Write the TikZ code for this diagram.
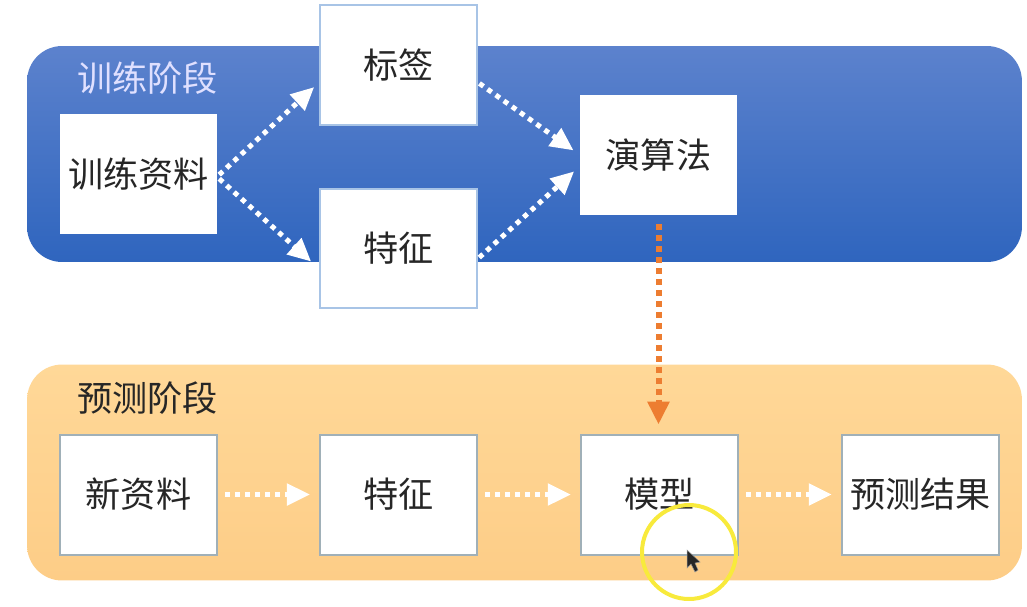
\documentclass[tikz,border=0pt]{standalone}
\usepackage{fontspec}
\newfontfamily\cjk{Noto Sans CJK SC}
\usetikzlibrary{arrows.meta,positioning}
\definecolor{bandblue}{RGB}{47,101,190}
\definecolor{bandbluetop}{RGB}{92,130,205}
\definecolor{bandorange}{RGB}{253,205,135}
\definecolor{bandorangetop}{RGB}{255,216,152}
\definecolor{edgeblue}{RGB}{168,196,230}
\definecolor{edgegray}{RGB}{160,176,184}
\definecolor{flow}{RGB}{237,125,49}
\definecolor{halocolor}{RGB}{248,234,60}
\tikzset{
    %Define style for boxes
    stagebox/.style={
           rectangle,
           draw=edgeblue,
           line width=.04cm,
           outer sep=0pt,
           minimum width=3.14cm,
           minimum height=2.4cm,
           text=black!85,
           font=\cjk\fontsize{20}{24}\selectfont,
           text centered,
           fill=white},
    lowbox/.style={
           stagebox,
           draw=edgegray},
    % Define style for bands
    band/.style={
           rectangle,
           rounded corners=.7cm,
           outer sep=0pt,
           minimum width=19.9cm,
           minimum height=4.32cm},
    bandtitle/.style={
           text=black!85,
           font=\cjk\fontsize{20}{24}\selectfont},
    % Define arrow style
    pil/.style={
           -{Triangle[length=.46cm,width=.42cm]},
           line width=.1cm,
           dash pattern=on .1cm off .1cm,
           draw=white,
           shorten <=.06cm,
           shorten >=.16cm}
}
\begin{document}
\begin{tikzpicture}[x=.02cm,y=-.02cm,node distance=2.08cm]
\useasboundingbox (0,0) rectangle (1027,606);
 %bands
\node[band, top color=bandbluetop, bottom color=bandblue](trainband) at (524.5,154){};
\node[band, top color=bandorangetop, bottom color=bandorange](predband) at (524.5,472.5){};
\node[bandtitle, text=white!88!blue](traintitle) at (147.5,78){训练阶段};
\node[bandtitle](predtitle) at (147.5,398){预测阶段};
 %nodes
\node[stagebox, draw=none](train) at (138.5,174){训练资料};
\node[stagebox](label) at (398.5,65){标签};
\node[stagebox](feat) at (398.5,248.5){特征};
\node[stagebox, draw=none](algo) at (658.5,155){演算法};
\node[lowbox](newdata) at (138.5,494.5){新资料};
\node[lowbox, right=2.06cm of newdata](newfeat){特征};
\node[lowbox, right=of newfeat](model){模型};
\node[lowbox, right=of model](result){预测结果};
 %arrows
\draw[pil] (train.-2) -- (label.192);
\draw[pil, shorten >=.24cm] (train.-2) -- (feat.195);
\draw[pil] (label.-12) -- (algo.west);
\draw[pil] (feat.-8) -- (algo.188);
\draw[pil, draw=flow, line width=.12cm, dash pattern=on .12cm off .1cm, shorten <=.18cm, shorten >=.2cm] (algo.south) -- (algo.south |- model.north);
\draw[pil, shorten <=.16cm, shorten >=.2cm] (newdata) -- (newfeat);
\draw[pil, shorten <=.16cm, shorten >=.2cm] (newfeat) -- (model);
\draw[pil, shorten <=.16cm, shorten >=.2cm] (model) -- (result);
 %pointer
\node[circle, draw=halocolor, line width=.08cm, minimum size=1.88cm](halo) at (689,552){};
\draw[fill=black!85, draw=white!60!black, line width=.01cm] (687,550) -- (687,568) -- (691,564) -- (695,572) -- (698,570) -- (695,563) -- (700,562) -- cycle;
\end{tikzpicture}
\end{document}
